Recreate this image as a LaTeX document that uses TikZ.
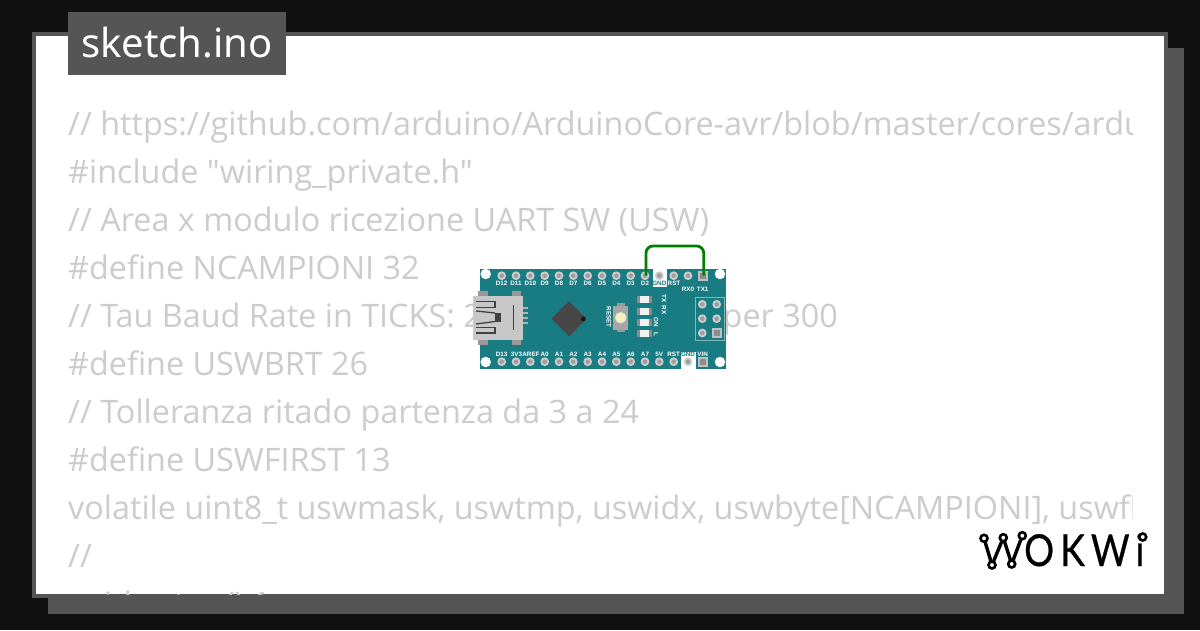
\documentclass[tikz,border=0pt]{standalone}
\usepackage{fontspec}
\setmainfont[Ligatures=TeXOff]{Open Sans}
\newfontfamily\tagfont{Noto Sans}
\newfontfamily\silkfont{Liberation Sans}
\newfontfamily\logofont[LetterSpace=16,FakeBold=.6]{Lato}
\usetikzlibrary{positioning}

\definecolor{pagedark}{HTML}{111111}
\definecolor{framegrey}{HTML}{555555}
\definecolor{codegrey}{HTML}{CCCCCC}
\definecolor{boardteal}{HTML}{1A7C83}
\definecolor{wiregreen}{HTML}{008000}
\definecolor{buttoncream}{HTML}{F4F0C0}

\tikzset{
    codeline/.style={anchor=base west, inner sep=0pt, text=codegrey, font=\fontsize{32.35}{32.35}\selectfont},
    pin/.style={circle, inner sep=0pt, minimum size=6.8pt, fill=black!38, draw=black!20, line width=1.8pt},
    squarepin/.style={rectangle, inner sep=0pt, minimum size=8pt, fill=black!45, draw=black!25, line width=1.8pt},
    silk/.style={inner sep=0pt, text=white, font=\silkfont\bfseries\fontsize{6.3}{6.3}\selectfont},
    hole/.style={circle, inner sep=0pt, minimum size=10.5pt, fill=white},
    ledcase/.style={rectangle, inner sep=0pt, minimum width=15pt, minimum height=7pt, fill=black!45},
    ledlens/.style={rectangle, inner sep=0pt, minimum width=8.5pt, minimum height=7pt, fill=black!5},
    jumper/.style={line width=2.8pt, wiregreen, rounded corners=7pt},
    logostroke/.style={line width=3.4pt, black, line cap=round, line join=round},
    logoring/.style={circle, inner sep=0pt, minimum size=7pt, fill=white, draw=black, line width=2.6pt}
}

\begin{document}
\begin{tikzpicture}[x=1pt, y=-1pt]
    \useasboundingbox (0,0) rectangle (1200,630);

    % page and frame
    \fill [pagedark]  (0,0) rectangle (1200,630);
    \fill [framegrey] (48,48) rectangle (1184,614);
    \fill [framegrey] (32,32) rectangle (1168,598);
    \fill [white]     (36,36) rectangle (1164,594);

    % code behind the board
    \begin{scope}
        \clip (68,36) rectangle (1132,594);
        \node[codeline] (l1)  at (68,135) {// https://github.com/arduino/ArduinoCore-avr/blob/master/cores/arduino/wiring\_digital.c};
        \node[codeline] (l2)  at (68,183) {\#include "wiring\_private.h"};
        \node[codeline] (l3)  at (68,231) {// Area x modulo ricezione UART SW (USW)};
        \node[codeline] (l4)  at (68,279) {\#define NCAMPIONI 32};
        \node[codeline] (l5)  at (68,327) {// Tau Baud Rate in TICKS: 2};
        \node[codeline, anchor=base east] (l5b) at (838,327) {per 300};
        \node[codeline] (l6)  at (68,375) {\#define USWBRT 26};
        \node[codeline] (l7)  at (68,423) {// Tolleranza ritado partenza da 3 a 24};
        \node[codeline] (l8)  at (68,471) {\#define USWFIRST 13};
        \node[codeline] (l9)  at (68,519) {volatile uint8\_t uswmask, uswtmp, uswidx, uswbyte[NCAMPIONI], uswflag;};
        \node[codeline] (l10) at (68,567) {//};
        \node[codeline] (l11) at (68,615) {void setup() \{};
    \end{scope}

    % file tab
    \fill [framegrey] (68,12) rectangle (286,75);
    \node[inner sep=0pt, anchor=base west, text=white, font=\tagfont\fontsize{40}{40}\selectfont] (tab) at (81,57.5) {sketch.ino};

    % board
    \fill [boardteal] (480,268.5) rectangle (726,369);
    \node[hole] (h1) at (485.7,274) {};
    \node[hole] (h2) at (720,274) {};
    \node[hole] (h3) at (485.7,362) {};
    \node[hole] (h4) at (720,362) {};

    % white pads under the GND pins
    \fill [white] (652.7,268.5) rectangle (666.7,287);
    \fill [white] (681,351.5) rectangle (695.7,369);

    % top pins
    \node[pin] (d12)  at (501.7,275.7) {};
    \node[pin] (d11)  at (516,275.7) {};
    \node[pin] (d10)  at (530.3,275.7) {};
    \node[pin] (d9)   at (544.7,275.7) {};
    \node[pin] (d8)   at (559,275.7) {};
    \node[pin] (d7)   at (573.3,275.7) {};
    \node[pin] (d6)   at (587.7,275.7) {};
    \node[pin] (d5)   at (602,275.7) {};
    \node[pin] (d4)   at (616.3,275.7) {};
    \node[pin] (d3)   at (630.7,275.7) {};
    \node[pin] (d2)   at (645,275.7) {};
    \node[pin] (gnd1) at (659.3,275.7) {};
    \node[pin] (rst1) at (673.7,275.7) {};
    \node[pin] (rx0)  at (688,275.7) {};
    \node[squarepin] (tx1) at (702.7,275.7) {};

    % bottom pins
    \node[pin] (d13)  at (501.7,361.7) {};
    \node[pin] (v33)  at (516,361.7) {};
    \node[pin] (aref) at (530.3,361.7) {};
    \node[pin] (a0)   at (544.7,361.7) {};
    \node[pin] (a1)   at (559,361.7) {};
    \node[pin] (a2)   at (573.3,361.7) {};
    \node[pin] (a3)   at (587.7,361.7) {};
    \node[pin] (a4)   at (602,361.7) {};
    \node[pin] (a5)   at (616.3,361.7) {};
    \node[pin] (a6)   at (630.7,361.7) {};
    \node[pin] (a7)   at (645,361.7) {};
    \node[pin] (v5)   at (659.3,361.7) {};
    \node[pin] (rst2) at (673.7,361.7) {};
    \node[pin] (gnd2) at (688,361.7) {};
    \node[squarepin] (vin) at (702.7,361.7) {};

    % top labels
    \node[silk] (d12t)  at (501.7,283) {D12};
    \node[silk] (d11t)  at (516,283) {D11};
    \node[silk] (d10t)  at (530.3,283) {D10};
    \node[silk] (d9t)   at (544.7,283) {D9};
    \node[silk] (d8t)   at (559,283) {D8};
    \node[silk] (d7t)   at (573.3,283) {D7};
    \node[silk] (d6t)   at (587.7,283) {D6};
    \node[silk] (d5t)   at (602,283) {D5};
    \node[silk] (d4t)   at (616.3,283) {D4};
    \node[silk] (d3t)   at (630.7,283) {D3};
    \node[silk] (d2t)   at (645,283) {D2};
    \node[silk, text=boardteal] (gnd1t) at (659.3,283) {GND};
    \node[silk] (rst1t) at (674,283) {RST};
    \node[silk] (rx0t)  at (688,289) {RX0};
    \node[silk] (tx1t)  at (702.7,289) {TX1};

    % bottom labels
    \node[silk] (d13t)  at (501.7,354) {D13};
    \node[silk] (v33t)  at (516.5,354) {3V3};
    \node[silk] (areft) at (531,354) {AREF};
    \node[silk] (a0t)   at (544.7,354) {A0};
    \node[silk] (a1t)   at (559,354) {A1};
    \node[silk] (a2t)   at (573.3,354) {A2};
    \node[silk] (a3t)   at (587.7,354) {A3};
    \node[silk] (a4t)   at (602,354) {A4};
    \node[silk] (a5t)   at (616.3,354) {A5};
    \node[silk] (a6t)   at (630.7,354) {A6};
    \node[silk] (a7t)   at (645,354) {A7};
    \node[silk] (v5t)   at (659.3,354) {5V};
    \node[silk] (rst2t) at (673.7,354) {RST};
    \node[silk, text=boardteal] (gnd2t) at (688,354) {GND};
    \node[silk] (vint)  at (702.7,354) {VIN};

    % usb socket
    \fill [black!40] (478,291) rectangle (488,297);
    \fill [black!40] (512,291) rectangle (521,297);
    \fill [black!40] (478,339) rectangle (488,345);
    \fill [black!40] (512,339) rectangle (521,345);
    \fill [black!30] (522,307) rectangle (528,309);
    \fill [black!30] (522,312) rectangle (528,314);
    \fill [black!30] (522,317) rectangle (528,319);
    \fill [black!30] (522,322) rectangle (528,324);
    \fill [black!22] (473,296) rectangle (522.7,340);
    \draw [line width=1.3pt, black!75] (476,301.5) -- (495,301.5) -- (495,307.5) -- (476,307.5);
    \draw [line width=1.3pt, black!75] (476,333) -- (495,333) -- (495,327.5) -- (476,327.5);
    \draw [line width=1.3pt, black!75] (476,311) -- (495,313);
    \draw [line width=1.3pt, black!75] (476,324) -- (495,321.5);
    \fill [black!75] (495,312.5) rectangle (500.5,322);
    \draw [line width=1.3pt, black!75] (513.5,305) -- (513.5,330);

    % chip
    \fill [black!72] (569,301) -- (586.7,318.7) -- (569,336.4) -- (551.3,318.7) -- cycle;
    \fill [black!90] (583.3,319) circle (2.4);

    % reset button
    \fill [black!40] (617,303) rectangle (624.5,332);
    \fill [black!35] (613.3,305.5) rectangle (628,330);
    \node[circle, inner sep=0pt, minimum size=11pt, fill=buttoncream, draw=black!15, line width=.6pt] (reset) at (620.7,317.7) {};
    \node[silk, rotate=-90] (resett) at (608.7,317) {RESET};

    % leds
    \node[ledcase] (led1) at (644.5,299.7) {};
    \node[ledcase] (led2) at (644.5,311.3) {};
    \node[ledcase] (led3) at (644.5,322.7) {};
    \node[ledcase] (led4) at (644.5,333.8) {};
    \node[ledlens] (lens1) at (led1) {};
    \node[ledlens] (lens2) at (led2) {};
    \node[ledlens] (lens3) at (led3) {};
    \node[ledlens] (lens4) at (led4) {};
    \node[silk, rotate=-90] (txt) at (664,298.7) {TX};
    \node[silk, rotate=-90] (rxt) at (664,310) {RX};
    \node[silk, rotate=-90] (ont) at (656,322) {ON};
    \node[silk, rotate=-90] (lt)  at (656,334) {L};

    % icsp header
    \draw [boardteal!55!white, line width=.9pt] (695.7,297.7) rectangle (724.7,340.3);
    \node[pin] (i1) at (702.3,304.3) {};
    \node[pin] (i2) at (716.7,304.3) {};
    \node[pin] (i3) at (702.3,318.7) {};
    \node[pin] (i4) at (716.7,318.7) {};
    \node[pin] (i5) at (702.3,333) {};
    \node[squarepin] (i6) at (716.7,333) {};

    % wire
    \coordinate (bend) at (675,246);
    \draw [jumper] ([xshift=1pt]d2.center) |- (bend) -| ([xshift=1pt]tx1.center);

    % logo
    \node[logoring] (w1) at (984,538.3) {};
    \node[logoring] (w2) at (1003.3,537.7) {};
    \node[logoring] (w3) at (1022.3,535.7) {};
    \node[logoring] (w4) at (992,565) {};
    \node[logoring] (w5) at (1011.7,564) {};
    \draw [logostroke] (w1) -- (w4);
    \draw [logostroke] (w4) -- (w2);
    \draw [logostroke] (w2) -- (w5);
    \draw [logostroke] (w5) -- (w3);
    \node[inner sep=0pt, anchor=base west, xscale=.85, transform shape, font=\logofont\fontsize{44}{44}\selectfont] (okwi) at (1024,566) {OKWi};
    \node[logoring] (idot) at (1142.7,537) {};
\end{tikzpicture}
\end{document}
